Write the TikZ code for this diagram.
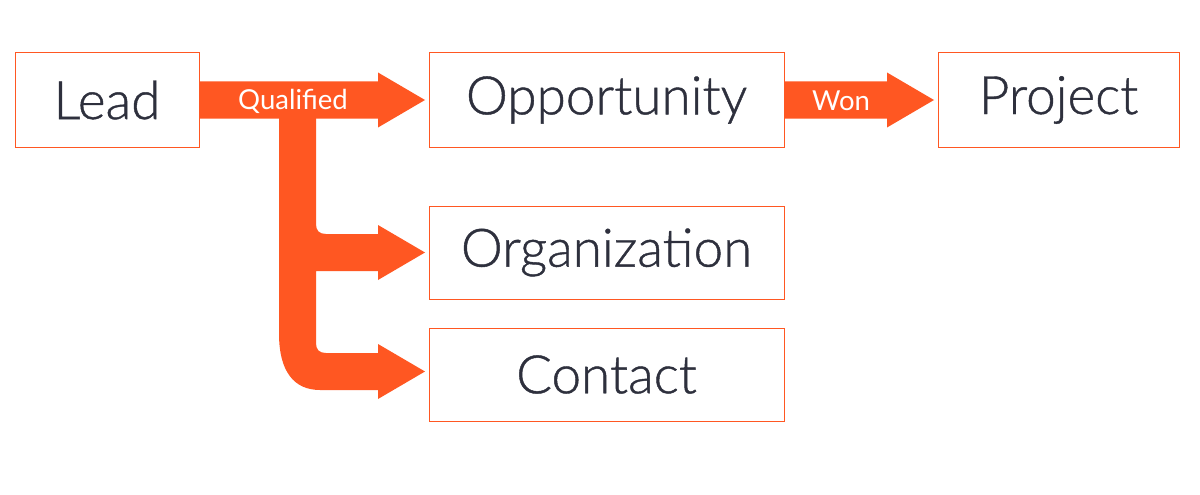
\documentclass[tikz,border=0pt]{standalone}
\usepackage{fontspec}
\setmainfont{Lato Light}[FakeBold=0.8]
\newfontfamily\lblfont{Lato}
\usetikzlibrary{calc}
\definecolor{flowc}{RGB}{255,87,34}
\definecolor{txtc}{RGB}{46,48,61}
\begin{document}
\begin{tikzpicture}[x=1pt,y=-1pt,
  box/.style={draw=flowc,line width=1pt,fill=white,inner sep=0pt,outer sep=0pt,
    minimum height=94pt,text=txtc,font=\fontsize{53}{63}\selectfont},
  flow/.style={fill=flowc,draw=none},
  lbl/.style={text=white,inner sep=0pt,font=\lblfont\fontsize{27.5}{32}\selectfont}]
\useasboundingbox[fill=white] (0,0) rectangle (1200,495);
% boxes
\node[box,minimum width=184pt] (lead) at (107,100) {Lead};
\node[box,minimum width=355pt] (opp) at (606.5,100) {Opportunity};
\node[box,minimum width=241pt] (proj) at (1058.5,100) {Project};
\node[box,minimum width=355pt,minimum height=93pt] (org) at (606.5,252.5) {Organization};
\node[box,minimum width=355pt,minimum height=93pt] (contact) at (606.5,374.5) {Contact};
% helper coordinates
\coordinate (bl) at ($(lead.east)+(80,0)$);
\coordinate (br) at ($(lead.east)+(117,0)$);
\coordinate (hb) at ($(opp.west)+(-51,0)$);
\coordinate (cw) at ($(contact.west)+(0,-3)$);
% Qualified arrow Lead -> Opportunity
\fill[flow] ($(lead.east)+(0,-18.5)$) -- ($(hb)+(0,-18.5)$) -- ($(hb)+(0,-27.5)$)
  -- ($(opp.west)+(-4,0)$) -- ($(hb)+(0,27.5)$) -- ($(hb)+(0,18.5)$)
  -- ($(lead.east)+(0,18.5)$) -- cycle;
% branching arrows to Organization and Contact
\fill[flow] (bl) -- (br)
  -- ($(br |- org.west)+(0,-28.5)$)
  .. controls ($(br |- org.west)+(0,-22)$) and ($(br |- org.west)+(3,-18.5)$) .. ($(br |- org.west)+(10,-18.5)$)
  -- ($(hb |- org.west)+(0,-18.5)$) -- ($(hb |- org.west)+(0,-27.5)$)
  -- ($(org.west)+(-4,0)$)
  -- ($(hb |- org.west)+(0,27.5)$) -- ($(hb |- org.west)+(0,18.5)$)
  -- ($(br |- org.west)+(0,18.5)$)
  -- ($(br |- cw)+(0,-28.5)$)
  .. controls ($(br |- cw)+(0,-22)$) and ($(br |- cw)+(3,-18.5)$) .. ($(br |- cw)+(10,-18.5)$)
  -- ($(hb |- cw)+(0,-18.5)$) -- ($(hb |- cw)+(0,-27.5)$)
  -- ($(cw)+(-4,0)$)
  -- ($(hb |- cw)+(0,27.5)$) -- ($(hb |- cw)+(0,18.5)$)
  -- ($(br |- cw)+(4,18.5)$)
  .. controls ($(br |- cw)+(-22,18.5)$) and ($(bl |- cw)+(0,0)$) .. ($(bl |- cw)+(0,-38)$)
  -- cycle;
% Won arrow Opportunity -> Project
\fill[flow] ($(opp.east)+(0,-18.5)$) -- ($(proj.west)+(-51,-18.5)$) -- ($(proj.west)+(-51,-27.5)$)
  -- ($(proj.west)+(-4,0)$) -- ($(proj.west)+(-51,27.5)$) -- ($(proj.west)+(-51,18.5)$)
  -- ($(opp.east)+(0,18.5)$) -- cycle;
% labels
\node[lbl] (qual) at (293,101) {Qualified};
\node[lbl] (won) at (841,101) {Won};
\end{tikzpicture}
\end{document}
